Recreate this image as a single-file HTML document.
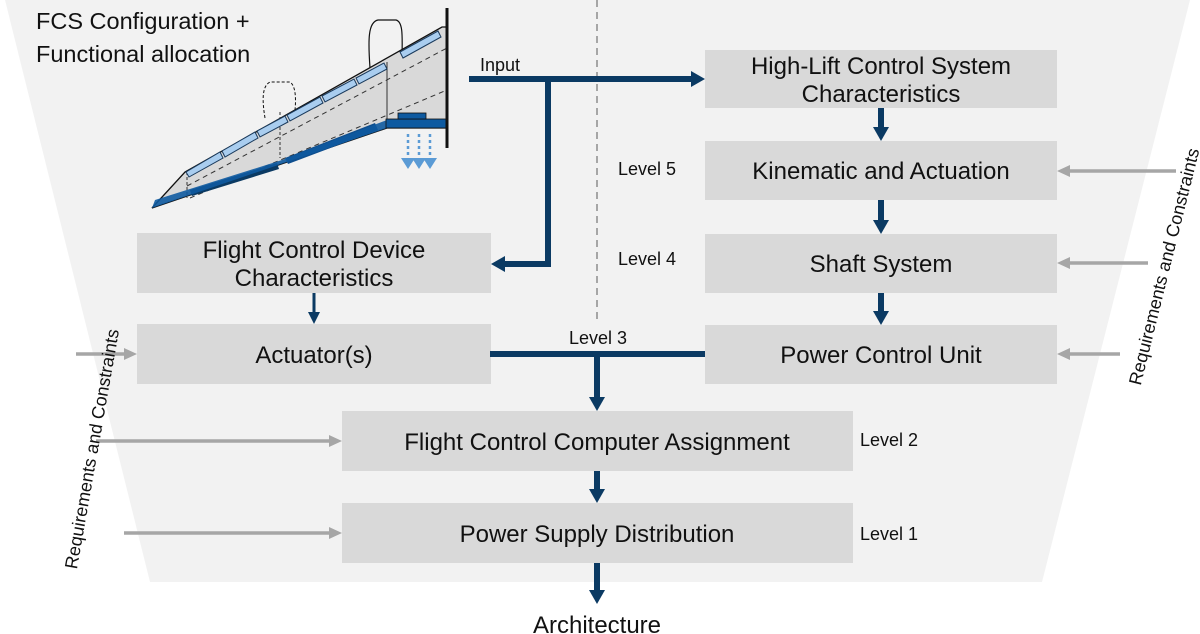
<!DOCTYPE html>
<html><head><meta charset="utf-8"><style>
html,body{margin:0;padding:0;background:#fff;}
svg{display:block;font-family:"Liberation Sans",Arial,sans-serif;}
</style></head><body>
<svg width="1200" height="634" viewBox="0 0 1200 634" xmlns="http://www.w3.org/2000/svg">
<polygon points="5,0 1190,0 1042,582 150,582" fill="#f2f2f2"/>
<line x1="597" y1="0" x2="597" y2="322" stroke="#a6a6a6" stroke-width="2" stroke-dasharray="7,5"/>

<text x="36" y="29" font-size="23.5" fill="#111">FCS Configuration +</text>
<text x="36" y="62" font-size="23.5" fill="#111">Functional allocation</text>

<!-- wing -->
<path d="M370,68 C368,40 368,22 378,20 L396,20 C404,22 402,40 402,62" fill="none" stroke="#111" stroke-width="1.2"/>
<path d="M265,118 C262,100 262,86 270,82 L290,82 C296,86 296,100 295,110" fill="none" stroke="#111" stroke-width="1" stroke-dasharray="3,2"/>
<polygon points="152,208 185,172 442,27 447,27 447,128 387,128" fill="#d9d9d9" stroke="#111" stroke-width="1.3"/>
<line x1="187" y1="186" x2="447" y2="48" stroke="#333" stroke-width="1" stroke-dasharray="5,4"/>
<line x1="190" y1="198" x2="447" y2="90" stroke="#333" stroke-width="1" stroke-dasharray="5,4"/>
<line x1="387" y1="62" x2="387" y2="122" stroke="#333" stroke-width="1"/>
<line x1="280" y1="112" x2="280" y2="158" stroke="#333" stroke-width="1" stroke-dasharray="3,2"/>
<line x1="187" y1="172" x2="187" y2="198" stroke="#333" stroke-width="1" stroke-dasharray="3,2"/>
<g fill="#a9cdef" stroke="#1a3a5c" stroke-width="1">
<polygon points="186,172 220,152 223,158 189,177"/>
<polygon points="222,151 255,132 258,138 225,157"/>
<polygon points="257,131 285,116 288,122 260,137"/>
<polygon points="287,115 320,97 323,103 290,121"/>
<polygon points="322,96 354,79 357,85 325,102"/>
<polygon points="356,78 384,63 387,69 359,84"/>
<polygon points="400,52 438,31 441,37 403,58"/>
</g>
<polygon points="190,190 277,163 279,169 192,196" fill="#0b3a63"/>
<polygon points="285,158 375,123 378,130 288,164" fill="#0e4e8e"/>
<polygon points="152,208 387,128 387,120 282,160 155,200" fill="#0e5aa0" opacity="0.9"/>
<rect x="386" y="119" width="61" height="9" fill="#0e5aa0" stroke="#111" stroke-width="0.8"/>
<rect x="398" y="113" width="28" height="6" fill="#0e5aa0" stroke="#111" stroke-width="0.8"/>
<line x1="447" y1="8" x2="447" y2="148" stroke="#111" stroke-width="3"/>
<g stroke="#5b9bd5" stroke-width="2.5" stroke-dasharray="3,3">
<line x1="408" y1="134" x2="408" y2="158"/><line x1="419" y1="134" x2="419" y2="158"/><line x1="430" y1="134" x2="430" y2="158"/>
</g>
<g fill="#5b9bd5"><polygon points="401,158 415,158 408,169"/><polygon points="412,158 426,158 419,169"/><polygon points="423,158 437,158 430,169"/></g>

<!-- boxes -->
<g fill="#d9d9d9">
<rect x="705" y="50" width="352" height="58"/>
<rect x="705" y="141" width="352" height="59"/>
<rect x="705" y="234" width="352" height="59"/>
<rect x="705" y="325" width="352" height="59"/>
<rect x="137" y="233" width="354" height="60"/>
<rect x="137" y="324" width="354" height="60"/>
<rect x="342" y="411" width="511" height="60"/>
<rect x="342" y="503" width="511" height="60"/>
</g>
<g font-size="24" fill="#111" text-anchor="middle">
<text x="881" y="74">High-Lift Control System</text>
<text x="881" y="102">Characteristics</text>
<text x="881" y="179">Kinematic and Actuation</text>
<text x="881" y="272">Shaft System</text>
<text x="881" y="363">Power Control Unit</text>
<text x="314" y="258">Flight Control Device</text>
<text x="314" y="286">Characteristics</text>
<text x="314" y="363">Actuator(s)</text>
<text x="597" y="450">Flight Control Computer Assignment</text>
<text x="597" y="542">Power Supply Distribution</text>
<text x="597" y="633">Architecture</text>
</g>
<g font-size="18" fill="#111">
<text x="480" y="71">Input</text>
<text x="618" y="175">Level 5</text>
<text x="618" y="265">Level 4</text>
<text x="569" y="344">Level 3</text>
<text x="860" y="446">Level 2</text>
<text x="860" y="540">Level 1</text>
</g>

<!-- dark connectors -->
<g stroke="#0b3a63" fill="none" stroke-width="6">
<path d="M469,79 H694"/>
<path d="M548,79 V264 H502"/>
<path d="M490,354 H705"/>
<path d="M597,354 V399"/>
<path d="M597,471 V491"/>
<path d="M597,563 V592"/>
<path d="M881,108 V129"/>
<path d="M881,200 V222"/>
<path d="M881,293 V313"/>
<path d="M314,293 V314" stroke-width="3"/>
</g>
<g fill="#0b3a63">
<polygon points="705,79 691,71 691,87"/>
<polygon points="491,264 505,256 505,272"/>
<polygon points="597,411 589,397 605,397"/>
<polygon points="597,503 589,489 605,489"/>
<polygon points="597,604 589,590 605,590"/>
<polygon points="881,141 873,127 889,127"/>
<polygon points="881,234 873,220 889,220"/>
<polygon points="881,325 873,311 889,311"/>
<polygon points="314,324 308,312 320,312"/>
</g>
<!-- grey arrows -->
<g stroke="#a6a6a6" fill="none" stroke-width="3.5">
<path d="M1176,171 H1068"/>
<path d="M1148,263 H1068"/>
<path d="M1120,354 H1068"/>
<path d="M76,354 H126"/>
<path d="M96,441 H331"/>
<path d="M124,533 H331"/>
</g>
<g fill="#a6a6a6">
<polygon points="1057,171 1070,165 1070,177"/>
<polygon points="1057,263 1070,257 1070,269"/>
<polygon points="1057,354 1070,348 1070,360"/>
<polygon points="137,354 124,348 124,360"/>
<polygon points="342,441 329,435 329,447"/>
<polygon points="342,533 329,527 329,539"/>
</g>
<g font-size="18" fill="#111" text-anchor="middle">
<text transform="translate(98,450) rotate(-80)">Requirements and Constraints</text>
<text transform="translate(1170,268) rotate(-76)">Requirements and Constraints</text>
</g>
</svg>
</body></html>
